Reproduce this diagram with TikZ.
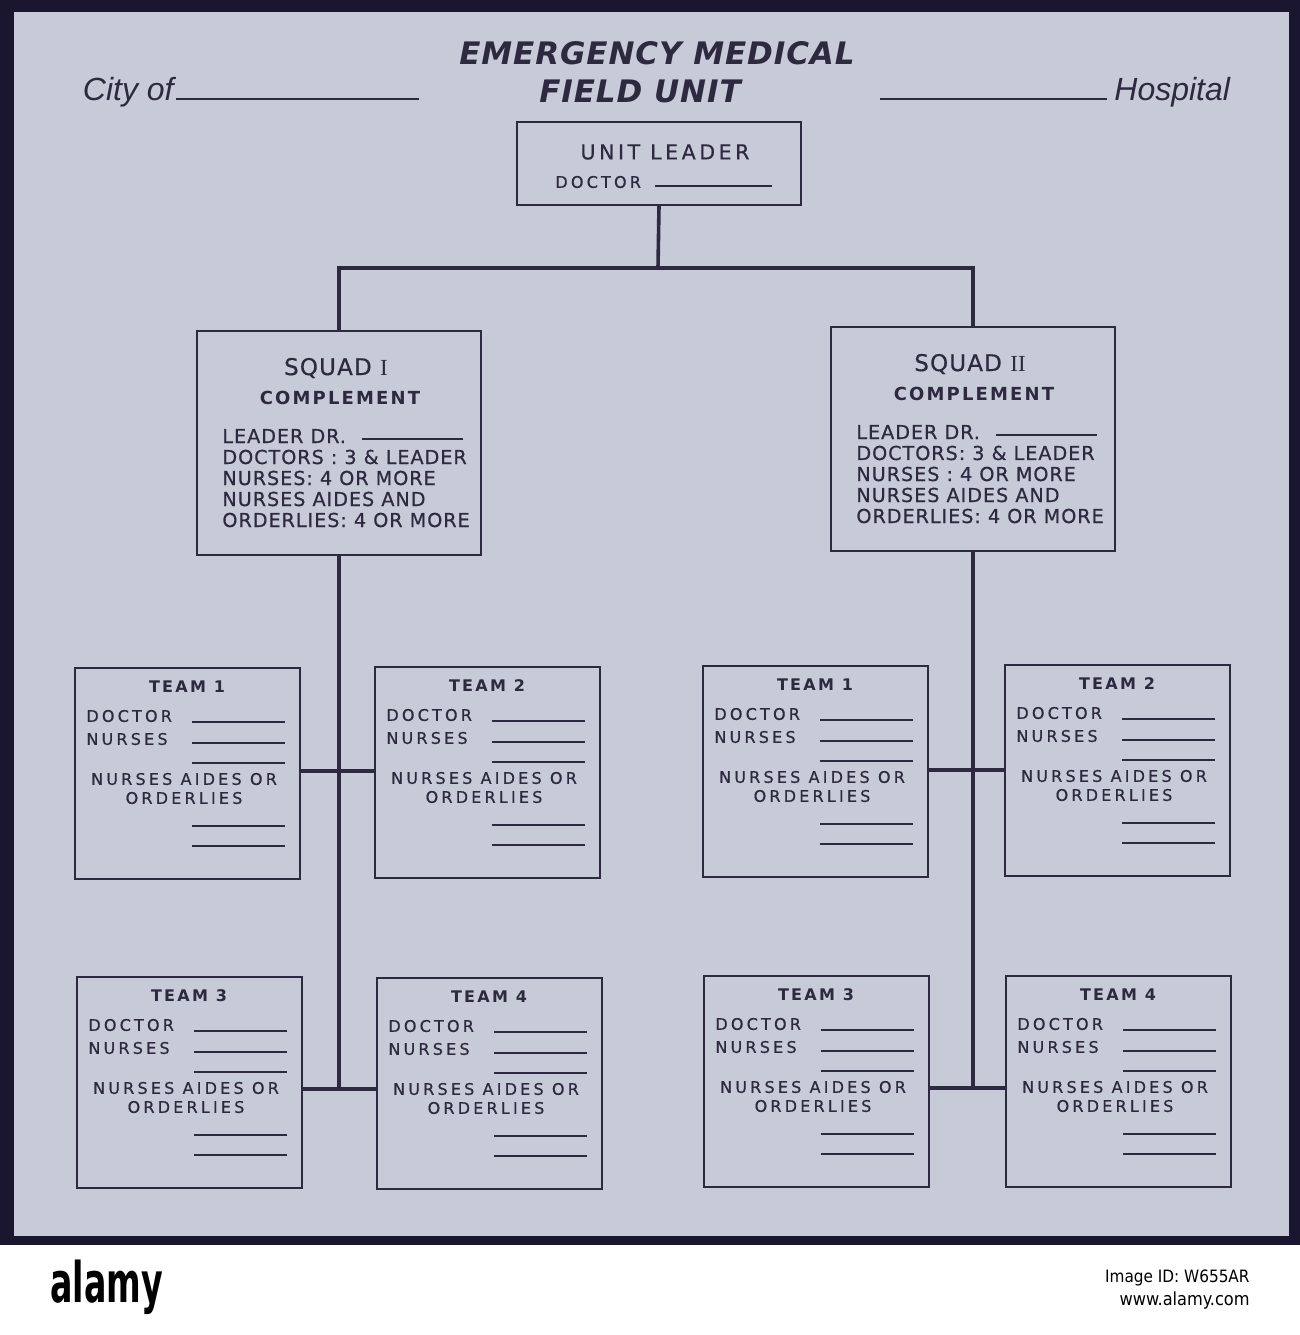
\documentclass[tikz,border=0pt]{standalone}
\usepackage{fontspec}
\setmainfont{DejaVu Sans}
\newfontfamily\teamfam[LetterSpace=20,FakeBold=0.6]{DejaVu Sans}
\newfontfamily\teambfam[LetterSpace=14]{DejaVu Sans}
\newfontfamily\sqfam[LetterSpace=5,FakeBold=0.6]{DejaVu Sans}
\newfontfamily\compfam[LetterSpace=12]{DejaVu Sans}
\newfontfamily\ulfam[LetterSpace=17,FakeBold=0.5]{DejaVu Sans}
\newfontfamily\ttlfam[LetterSpace=3]{DejaVu Sans}
\newfontfamily\handfam{Liberation Sans}
\newfontfamily\numfam{Liberation Serif}
\newfontfamily\condfam{DejaVu Sans Condensed}
\newcommand\teamf{\teamfam\fontsize{8}{9}\selectfont}
\newcommand\teamb{\teambfam\bfseries\fontsize{8}{9}\selectfont}
\newcommand\sqf{\sqfam\fontsize{9.6}{11}\selectfont}
\newcommand\sqc{\compfam\bfseries\fontsize{9}{11}\selectfont}
\newcommand\sqh{\sqfam\fontsize{11.5}{13}\selectfont}
\newcommand\ulf{\ulfam\fontsize{10.3}{12}\selectfont}
\newcommand\ttlf{\ttlfam\bfseries\itshape\fontsize{15.5}{18}\selectfont}
\newcommand\handf{\handfam\itshape\fontsize{16}{18}\selectfont}
\definecolor{ink}{HTML}{2E2840}
\definecolor{paper}{HTML}{C7CBD8}
\definecolor{frame}{HTML}{1B1630}
\tikzset{
  box/.style={draw=ink, line width=1pt, inner sep=0pt},
  conn/.style={draw=ink, line width=1.8pt},
  blank/.style={draw=ink, line width=0.8pt},
  txt/.style={text=ink, inner sep=0pt},
}
\newcommand{\teambox}[4]{%
  \begin{scope}[shift={(#2,#3)}]
    \node[box, minimum width=112.5pt, minimum height=105.5pt] (#1) at (112.5,105.5) {};
    \node[txt, font=\teamb] (#1-t) at (112,19) {TEAM #4};
    \node[txt, font=\teamf, anchor=west] (#1-d) at (11,48) {DOCTOR};
    \node[txt, font=\teamf, anchor=west] (#1-n) at (11,71) {NURSES};
    \node[txt, font=\teamf] (#1-a) at (109,111) {NURSES AIDES OR};
    \node[txt, font=\teamf] (#1-o) at (109,130) {ORDERLIES};
    \draw[blank] (117,54) -- (210,54);
    \draw[blank] (117,75) -- (210,75);
    \draw[blank] (117,95) -- (210,95);
    \draw[blank] (117,158) -- (210,158);
    \draw[blank] (117,178) -- (210,178);
  \end{scope}}
\newcommand{\squadbox}[6]{%
  \begin{scope}[shift={(#2,#3)}]
    \node[box, minimum width=142pt, minimum height=112pt] (#1) at (142,112) {};
    \node[txt, font=\sqh] (#1-t) at (139,37) {SQUAD {\numfam #4}};
    \node[txt, font=\sqc] (#1-c) at (143,67) {COMPLEMENT};
    \node[txt, font=\sqf, anchor=west] (#1-l) at (25,105) {LEADER DR.};
    \draw[blank] (165,108) -- (266,108);
    \node[txt, font=\sqf, anchor=west] (#1-d) at (25,126) {#5};
    \node[txt, font=\sqf, anchor=west] (#1-n) at (25,147) {#6};
    \node[txt, font=\sqf, anchor=west] (#1-a) at (25,168) {NURSES AIDES AND};
    \node[txt, font=\sqf, anchor=west] (#1-o) at (25,189) {ORDERLIES: 4 OR MORE};
  \end{scope}}
\begin{document}
\begin{tikzpicture}[x=0.5pt, y=-0.5pt]
\useasboundingbox (0,0) rectangle (1300,1335);
% background
\fill[frame] (0,0) rectangle (1300,1245);
\fill[paper] (14,12) rectangle (1289,1236);
\fill[white] (0,1245) rectangle (1300,1335);
% title
\node[txt, font=\ttlf] (title1) at (657,53) {EMERGENCY MEDICAL};
\node[txt, font=\ttlf] (title2) at (640,91) {FIELD UNIT};
\node[txt, font=\handf, anchor=east] (city) at (174,92) {City of};
\draw[blank] (176,99) -- (419,99);
\draw[blank] (880,99) -- (1107,99);
\node[txt, font=\handf, anchor=west] (hosp) at (1114,92) {Hospital};
% unit leader
\node[box, minimum width=142pt, minimum height=41.5pt] (ul) at (659,163.5) {};
\node[txt, font=\ulf] (ul-t) at (665,152) {UNIT LEADER};
\node[txt, font=\teamf, anchor=west] (ul-d) at (555,182) {DOCTOR};
\draw[blank] (655,186) -- (772,186);
% squads
\squadbox{sq1}{197}{331}{I}{DOCTORS : 3 \& LEADER}{NURSES: 4 OR MORE}
\squadbox{sq2}{831}{327}{II}{DOCTORS: 3 \& LEADER}{NURSES : 4 OR MORE}
% teams
\teambox{t1l}{75}{668}{1}
\teambox{t2l}{375}{667}{2}
\teambox{t3l}{77}{977}{3}
\teambox{t4l}{377}{978}{4}
\teambox{t1r}{703}{666}{1}
\teambox{t2r}{1005}{665}{2}
\teambox{t3r}{704}{976}{3}
\teambox{t4r}{1006}{976}{4}
% connectors
\coordinate (hb) at (658,268);
\draw[conn] (ul.south) -- (hb);
\draw[conn] (sq1.north) |- (hb) -| (sq2.north);
\coordinate (j1l) at (338,771);
\coordinate (j3l) at (338,1089);
\coordinate (j1r) at (972,770);
\coordinate (j3r) at (972,1088);
\draw[conn] (sq1.south) -- (sq1.south |- j3l);
\draw[conn] (t1l.east |- j1l) -- (t2l.west |- j1l);
\draw[conn] (t3l.east |- j3l) -- (t4l.west |- j3l);
\draw[conn] (sq2.south) -- (sq2.south |- j3r);
\draw[conn] (t1r.east |- j1r) -- (t2r.west |- j1r);
\draw[conn] (t3r.east |- j3r) -- (t4r.west |- j3r);
% footer
\node[txt, text=black, font=\condfam\bfseries\fontsize{28}{30}\selectfont, anchor=west] (logo) at (50,1287) {\scalebox{0.66}[1]{alamy}};
\node[txt, text=black, font=\condfam\fontsize{8.5}{10}\selectfont, anchor=east] (imgid) at (1250,1278) {Image ID: W655AR};
\node[txt, text=black, font=\condfam\fontsize{9}{10}\selectfont, anchor=east] (url) at (1250,1301) {www.alamy.com};
\end{tikzpicture}
\end{document}
